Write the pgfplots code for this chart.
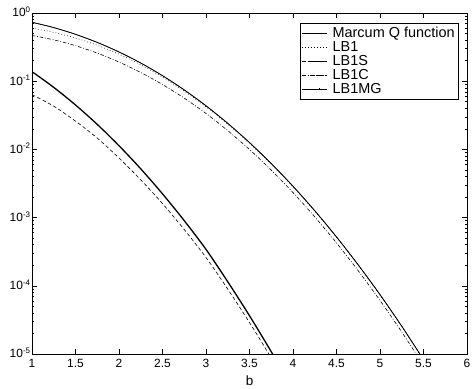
\documentclass[border=0pt]{standalone}
\usepackage{fontspec}
\setmainfont{Liberation Sans}
\usepackage{pgfplots}
\pgfplotsset{compat=1.18}
\begin{document}
\begin{tikzpicture}
\useasboundingbox (-32bp,-35bp) rectangle (442bp,354bp);
\begin{axis}[
  at={(0,0)}, anchor=south west, scale only axis,
  width=435bp, height=341bp,
  xmin=1, xmax=6, ymin=1e-5, ymax=1, ymode=log,
  xtick={1,1.5,2,2.5,3,3.5,4,4.5,5,5.5,6},
  ytick={1e-5,1e-4,1e-3,1e-2,1e-1,1},
  yticklabels={10\textsuperscript{-5},10\textsuperscript{-4},10\textsuperscript{-3},10\textsuperscript{-2},10\textsuperscript{-1},10\textsuperscript{0}},
  tick align=inside, major tick length=5bp, minor tick length=2.5bp,
  axis line style={line width=0.7bp},
  every tick/.style={line width=0.5bp, black},
  tick label style={font=\fontsize{12}{14}\selectfont},
  yticklabel style={inner sep=1.2bp, yshift=1bp},
  xticklabel style={inner sep=1bp, yshift=-4bp},
  /pgf/number format/assume math mode=true,
  xlabel={b},
  xlabel style={font=\fontsize{13.5}{15}\selectfont, at={(axis description cs:0.5,0)}, anchor=north, yshift=-22bp, inner sep=0pt},
  legend style={at={(rel axis cs:0.9816,0.972)}, anchor=north east,
    font=\fontsize{14.5}{15}\selectfont, draw=black, line width=0.7bp,
    inner xsep=2bp, inner ysep=3bp, row sep=0pt, column sep=3bp,
    nodes={inner xsep=2bp, inner ysep=1.5bp, text height=10.5bp, text depth=0.5bp}},
  legend cell align=left,
  legend image code/.code={\path (0bp,0bp) -- (25bp,0bp); \draw[#1] (9bp,0bp) -- (24bp,0bp);},
]
% upper group: Marcum Q, a=1
\addplot[black, line width=0.6bp, smooth] coordinates {
(1.00,0.7328) (1.25,0.6124) (1.50,0.4880) (1.75,0.3713) (2.00,0.2690)
(2.25,0.1851) (2.50,0.12085) (2.75,0.07470) (3.00,0.04372) (3.25,0.02417)
(3.50,0.012621) (3.75,0.006218) (4.00,0.002890) (4.25,0.001265) (4.50,5.222e-4)
(4.75,2.030e-4) (5.00,7.436e-5) (5.25,2.561e-5) (5.50,8.30e-6)};
\addlegendentry{Marcum Q function}
% LB1 dotted
\addplot[black, line width=0.6bp, smooth, dash pattern=on 0.7bp off 2.3bp] coordinates {
(1.00,0.5972) (1.25,0.5205) (1.50,0.4294) (1.75,0.3360) (2.00,0.2488)
(2.25,0.1740) (2.50,0.1148) (2.75,0.07156) (3.00,0.04219) (3.25,0.02344)
(3.50,0.012305) (3.75,0.006081) (4.00,0.002832) (4.25,0.001243) (4.50,5.144e-4)
(4.75,2.004e-4) (5.00,7.347e-5) (5.25,2.533e-5) (5.50,8.22e-6)};
\addlegendentry{LB1}
% LB1S dashed (lower group)
\addplot[black, line width=0.6bp, smooth, dash pattern=on 3.5bp off 2.5bp] coordinates {
(1.00,0.06353) (1.25,0.04303) (1.50,0.02600) (1.75,0.01465) (2.00,0.007478)
(2.25,0.003581) (2.50,0.001606) (2.75,6.670e-4) (3.00,2.601e-4) (3.25,8.947e-5)
(3.50,2.894e-5) (3.75,8.75e-6) (4.00,2.49e-6)};
\addlegendentry{LB1S}
% LB1C dash-dot
\addplot[black, line width=0.6bp, smooth, dash pattern=on 3.5bp off 1.8bp on 0.8bp off 1.8bp] coordinates {
(1.00,0.4690) (1.25,0.4042) (1.50,0.3318) (1.75,0.2581) (2.00,0.1910)
(2.25,0.1342) (2.50,0.08943) (2.75,0.05640) (3.00,0.03366) (3.25,0.01885)
(3.50,0.009971) (3.75,0.004962) (4.00,0.002326) (4.25,0.001025) (4.50,4.256e-4)
(4.75,1.661e-4) (5.00,6.098e-5) (5.25,2.105e-5) (5.50,6.85e-6)};
\addlegendentry{LB1C}
% LB1MG (almost on Marcum Q)
\addplot[black, line width=0.6bp, smooth,
  legend image code/.code={\path (0bp,0bp) -- (25bp,0bp); \draw[black, line width=0.6bp] (9bp,0bp) -- (24bp,0bp); \draw[black, line width=0.5bp] (16.5bp,-1.2bp) -- (16.5bp,1.2bp);}] coordinates {
(1.00,0.7290) (1.25,0.6095) (1.50,0.4858) (1.75,0.3697) (2.00,0.2678)
(2.25,0.1843) (2.50,0.12030) (2.75,0.07436) (3.00,0.04352) (3.25,0.02406)
(3.50,0.012563) (3.75,0.006190) (4.00,0.002877) (4.25,0.001259) (4.50,5.198e-4)
(4.75,2.021e-4) (5.00,7.402e-5) (5.25,2.549e-5) (5.50,8.26e-6)};
\addlegendentry{LB1MG}
% lower group Marcum Q (thick: several curves coincide)
\addplot[black, line width=1.3bp, smooth, forget plot] coordinates {
(1.00,0.1381) (1.25,0.08118) (1.50,0.04482) (1.75,0.02326) (2.00,0.01133)
(2.25,0.005190) (2.50,0.002231) (2.75,9.014e-4) (3.00,3.422e-4) (3.25,1.147e-4)
(3.50,3.64e-5) (3.75,1.08e-5) (4.00,3.04e-6)};
\end{axis}
\end{tikzpicture}
\end{document}
